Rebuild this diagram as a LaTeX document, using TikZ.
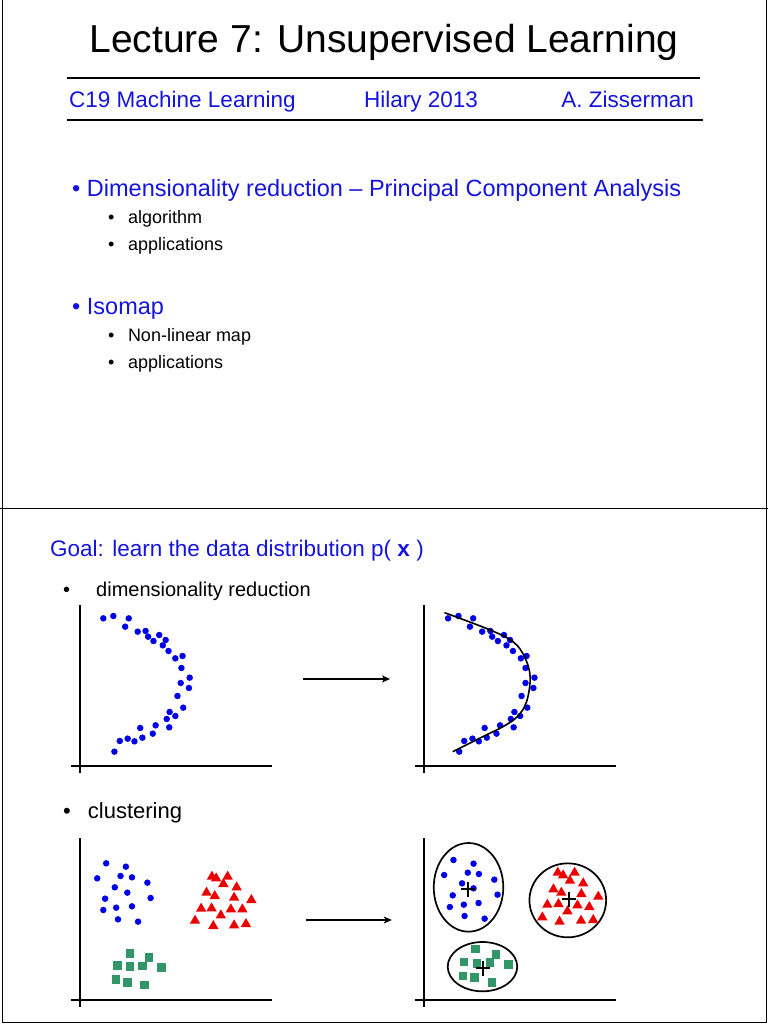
\documentclass[tikz,border=0pt]{standalone}
\usepackage{fontspec}
\setmainfont{Liberation Sans}
\usetikzlibrary{shapes.geometric,arrows.meta}
\definecolor{tblue}{RGB}{20,20,220}
\definecolor{dblue}{RGB}{0,0,230}
\definecolor{tred}{RGB}{235,0,0}
\definecolor{tgreen}{RGB}{50,150,105}
\tikzset{
 dotb/.style={circle,fill=dblue,inner sep=0,minimum size=6.5pt},
 tri/.style={regular polygon,regular polygon sides=3,fill=tred,inner sep=0,minimum size=12pt},
 sq/.style={rectangle,fill=tgreen,inner sep=0,minimum size=8.5pt},
 txt/.style={anchor=base west,inner sep=0},
 axis/.style={line width=1.8pt},
 arr/.style={-{Stealth[length=8pt,width=7pt,inset=2pt]},line width=1.2pt},
 ell/.style={line width=1.7pt},
}
\begin{document}
\begin{tikzpicture}[x=1pt,y=-1pt]
\useasboundingbox (0,0) rectangle (768,1024);
% frames
\draw[line width=0.8pt] (2,0) -- (2,1022) -- (766,1022) -- (766,0);
\draw[line width=0.8pt] (0,508) -- (768,508);
% top slide
\node[inner sep=0] (title) at (384,42) {\fontsize{39}{44}\selectfont Lecture 7: Unsupervised Learning};
\draw[line width=1.2pt] (67,78) -- (700,78);
\draw[line width=1.2pt] (67,120) -- (703,120);
\node[txt,text=tblue] (s1) at (69,108) {\fontsize{22.5}{26}\selectfont C19 Machine Learning};
\node[txt,text=tblue] (s2) at (364,108) {\fontsize{22.5}{26}\selectfont Hilary 2013};
\node[anchor=base east,inner sep=0,text=tblue] (s3) at (694,108) {\fontsize{22.5}{26}\selectfont A. Zisserman};
\node[txt,text=tblue] (b1) at (72,197) {\fontsize{23.5}{26}\selectfont • Dimensionality reduction – Principal Component Analysis};
\node[txt] (b1a) at (108,223) {\fontsize{18}{20}\selectfont •\hspace{13.5pt}algorithm};
\node[txt] (b1b) at (108,250) {\fontsize{18}{20}\selectfont •\hspace{13.5pt}applications};
\node[txt,text=tblue] (b2) at (72,314) {\fontsize{23.5}{26}\selectfont • Isomap};
\node[txt] (b2a) at (108,341) {\fontsize{18}{20}\selectfont •\hspace{13.5pt}Non-linear map};
\node[txt] (b2b) at (108,368) {\fontsize{18}{20}\selectfont •\hspace{13.5pt}applications};
% bottom slide
\node[txt,text=tblue] (goal) at (50,556) {\fontsize{22.5}{26}\selectfont Goal: learn the data distribution p( \textbf{x} )};
\node[txt] (g1) at (63,596) {\fontsize{20}{22}\selectfont •\hspace{26pt}dimensionality reduction};
\node[txt] (g2) at (63,818) {\fontsize{22}{24}\selectfont •\hspace{17pt}clustering};
% plot 1
\begin{scope}[shift={(58.5,600)},xscale=0.3584,yscale=0.3333]
\draw[axis] (60,15) -- (60,520);
\draw[axis] (35,497) -- (595,497);
\foreach \p in {(125,55),(153,48),(196,55),(186,80),(221,95),(243,93),(250,110),(281,105),(265,123),(299,120),(291,136),(307,153),(326,175),(346,168),(343,204),(366,233),(341,249),(364,264),(332,288),(348,323),(310,336),(326,348),(302,357),(309,382),(271,376),(228,384),(263,401),(234,413),(193,416),(212,424),(171,423),(156,455)}
  \node[dotb] at \p {};
\draw[arr] (683,237) -- (925,237);
\draw[axis] (1020,15) -- (1020,520);
\draw[axis] (995,497) -- (1555,497);
\foreach \p in {(1087,55),(1116,48),(1157,55),(1148,80),(1182,95),(1205,93),(1210,110),(1243,105),(1226,123),(1260,120),(1250,136),(1268,153),(1290,175),(1306,168),(1303,204),(1328,233),(1303,249),(1325,264),(1292,288),(1308,323),(1272,336),(1288,348),(1262,357),(1270,382),(1232,376),(1189,384),(1222,401),(1195,413),(1155,416),(1173,424),(1132,423),(1118,455)}
  \node[dotb] at \p {};
\draw[line width=1.6pt] plot[smooth,tension=0.6] coordinates {(1077,38) (1200,88) (1268,125) (1300,170) (1316,230) (1306,305) (1280,350) (1240,380) (1180,412) (1100,455)};
\end{scope}
% plot 2
\begin{scope}[shift={(58.5,830)},xscale=0.3584,yscale=0.3333]
\draw[axis] (60,25) -- (60,530);
\draw[axis] (35,510) -- (595,510);
\foreach \p in {(133,100),(188,110),(108,145),(173,138),(205,142),(248,158),(157,172),(192,188),(130,206),(257,204),(161,233),(205,229),(125,240),(166,268),(222,275)}
  \node[dotb] at \p {};
\foreach \p in {(428,140),(440,145),(472,140),(460,162),(497,172),(413,188),(436,198),(490,203),(538,210),(398,236),(427,235),(481,238),(513,238),(453,256),(381,272),(432,288),(490,286),(523,282)}
  \node[tri] at \p {};
\foreach \p in {(199,370),(252,382),(165,406),(200,410),(235,408),(287,413),(161,448),(193,457),(240,465)}
  \node[sq] at \p {};
\draw[arr] (690,270) -- (930,270);
\draw[axis] (1020,25) -- (1020,530);
\draw[axis] (995,510) -- (1555,510);
\draw[ell] (1144,172) ellipse[x radius=97,y radius=133];
\draw[ell] (1421,211) ellipse[x radius=107,y radius=111];
\draw[ell] (1183,410) ellipse[x radius=97,y radius=74];
\foreach \p in {(1102,90),(1158,101),(1076,135),(1142,128),(1173,132),(1216,149),(1126,160),(1158,175),(1225,194),(1100,196),(1172,219),(1131,224),(1092,231),(1133,258),(1189,266)}
  \node[dotb] at \p {};
\foreach \p in {(1393,128),(1408,136),(1440,128),(1427,152),(1464,160),(1381,178),(1403,188),(1459,192),(1506,200),(1364,224),(1395,222),(1448,226),(1481,231),(1420,244),(1350,262),(1398,275),(1458,272),(1492,270)}
  \node[tri] at \p {};
\foreach \p in {(1164,357),(1220,373),(1132,396),(1167,400),(1204,397),(1255,403),(1129,438),(1161,443),(1210,458)}
  \node[sq] at \p {};
\foreach \p in {(1142,178),(1425,208),(1185,415)}
  \draw[line width=1.8pt] \p ++(-20,0) -- ++(40,0) \p ++(0,-22) -- ++(0,44);
\end{scope}
\end{tikzpicture}
\end{document}
